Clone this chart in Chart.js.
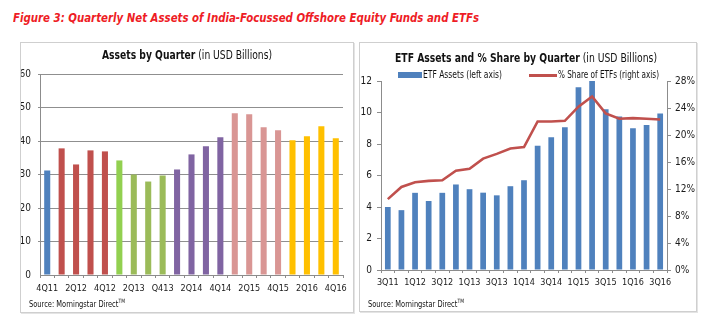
<!DOCTYPE html>
<html>
<head>
<meta charset="utf-8">
<script src="https://cdn.jsdelivr.net/npm/chart.js@4.4.1/dist/chart.umd.min.js"></script>
<style>
  html, body { margin:0; padding:0; background:#fff; }
  body { width:709px; height:332px; position:relative; overflow:hidden;
         font-family:"Liberation Sans Narrow","DejaVu Sans Condensed","Liberation Sans",sans-serif; color:#1a1a1a; }
  .abs { position:absolute; white-space:nowrap; }
  .fit { transform-origin:0 50%; display:inline-block; }
  .panel { position:absolute; border:1px solid #cfcfcf; box-shadow:1px 1px 0 #e4e4e4; background:#fff; }
  canvas { position:absolute; }
  #figTitle { color:#ee1c25; font-weight:bold; font-style:italic; font-size:13px; line-height:16px; }
  .ptitle { font-size:12px; line-height:14px; color:#111; }
  .ptitle b { font-weight:bold; }
  .src { font-size:9px; line-height:11px; color:#111; }
  .src sup { font-size:6px; vertical-align:4px; line-height:0; }
  .leg { font-size:10px; line-height:12px; color:#111; }
</style>
</head>
<body>
<div class="abs fit" id="figTitle" data-w="466" style="left:13px; top:10px;">Figure 3: Quarterly Net Assets of India-Focussed Offshore Equity Funds and ETFs</div>

<div class="panel" style="left:20px; top:42px; width:332px; height:269px;"></div>
<div class="panel" style="left:359px; top:42px; width:336px; height:268px;"></div>

<canvas id="leftChart" width="331" height="269" style="left:21px; top:43px; width:331px; height:269px;"></canvas>
<canvas id="rightChart" width="335" height="267" style="left:360px; top:43px; width:335px; height:267px;"></canvas>

<div class="abs fit ptitle" id="leftTitle" data-w="170" style="left:102px; top:48px;"><b>Assets by Quarter</b> (in USD Billions)</div>
<div class="abs fit ptitle" id="rightTitle" data-w="262" style="left:395px; top:51px;"><b>ETF Assets and % Share by Quarter</b> (in USD Billions)</div>

<div class="abs" id="legBox" style="left:398px; top:72px; width:24px; height:6px;"></div>
<div class="abs fit leg" id="legText1" data-w="79" style="left:423px; top:69px;"></div>
<div class="abs" id="legLine" style="left:529px; top:73.5px; width:28px; height:3px;"></div>
<div class="abs fit leg" id="legText2" data-w="101" style="left:558px; top:69px;"></div>

<div class="abs fit src" data-w="96" style="left:29px; top:299px;">Source: Morningstar Direct<sup>TM</sup></div>
<div class="abs fit src" data-w="96" style="left:368px; top:299px;">Source: Morningstar Direct<sup>TM</sup></div>

<script>
// ---------- DATA ----------
const leftQuarters = ['4Q11','1Q12','2Q12','3Q12','4Q12','1Q13','2Q13','3Q13','4Q13','1Q14','2Q14','3Q14','4Q14','1Q15','2Q15','3Q15','4Q15','1Q16','2Q16','3Q16','4Q16'];
const leftTickLabels = ['4Q11','','2Q12','','4Q12','','2Q13','','Q413','','2Q14','','4Q14','','2Q15','','4Q15','','2Q16','','4Q16'];
const assetsByQuarter = [31.2, 37.8, 33.0, 37.2, 36.9, 34.2, 30.0, 27.9, 29.7, 31.5, 36.0, 38.4, 41.1, 48.3, 48.0, 44.1, 43.2, 40.2, 41.4, 44.4, 40.8];
const leftYTicks = [0, 10, 20, 30, 40, 50, 60];

const rightQuarters = ['3Q11','4Q11','1Q12','2Q12','3Q12','4Q12','1Q13','2Q13','3Q13','4Q13','1Q14','2Q14','3Q14','4Q14','1Q15','2Q15','3Q15','4Q15','1Q16','2Q16','3Q16'];
const rightTickLabels = ['3Q11','','1Q12','','3Q12','','1Q13','','3Q13','','1Q14','','3Q14','','1Q15','','3Q15','','1Q16','','3Q16'];
const etfAssets = [4.0, 3.8, 4.9, 4.38, 4.9, 5.43, 5.13, 4.91, 4.74, 5.32, 5.70, 7.89, 8.43, 9.06, 11.6, 12.0, 10.21, 9.74, 9.0, 9.21, 9.94];
const etfSharePct = [10.5, 12.3, 13.0, 13.2, 13.3, 14.7, 15.0, 16.5, 17.2, 18.0, 18.2, 22.0, 22.0, 22.1, 24.2, 25.7, 23.2, 22.4, 22.5, 22.4, 22.3];
const etfAssetsLabel = 'ETF Assets (left axis)';
const etfShareLabel = '% Share of ETFs (right axis)';

// ---------- STYLE ----------
const leftBarColors = ['#4f81bd',
  '#c0504d','#c0504d','#c0504d','#c0504d',
  '#92d050','#9bbb59','#9bbb59','#9bbb59',
  '#8064a2','#8064a2','#8064a2','#8064a2',
  '#d99694','#d99694','#d99694','#d99694',
  '#ffc000','#ffc000','#ffc000','#ffc000'];
const ETF_BLUE = '#4f81bd', SHARE_RED = '#c0504d';
const FONT = '"Liberation Sans Narrow","DejaVu Sans Condensed","Liberation Sans",sans-serif';
const AXIS_GRAY = '#8c8c8c';

document.getElementById('legText1').textContent = etfAssetsLabel;
document.getElementById('legText2').textContent = etfShareLabel;
document.getElementById('legBox').style.background = ETF_BLUE;
document.getElementById('legLine').style.background = SHARE_RED;

// fit HTML texts to measured widths
document.querySelectorAll('.fit').forEach(el => {
  const target = parseFloat(el.dataset.w);
  const w = el.getBoundingClientRect().width;
  if (w > 0) el.style.transform = 'scaleX(' + (target / w) + ')';
});

Chart.defaults.font.family = FONT;
Chart.defaults.color = '#1a1a1a';
Chart.defaults.animation = false;

// ---------- LEFT CHART ----------
new Chart(document.getElementById('leftChart'), {
  type: 'bar',
  data: {
    labels: leftQuarters,
    datasets: [{ data: assetsByQuarter, backgroundColor: leftBarColors, barPercentage: 0.42, categoryPercentage: 1.0 }]
  },
  options: {
    responsive: false,
    layout: { padding: { left: 0, right: 9, top: 31, bottom: 0 } },
    plugins: { legend: { display: false }, tooltip: { enabled: false } },
    scales: {
      x: {
        offset: true,
        border: { display: true, color: AXIS_GRAY, width: 1 },
        grid: { display: true, drawOnChartArea: false, drawTicks: true, tickLength: 3, color: AXIS_GRAY, offset: true },
        ticks: { autoSkip: false, maxRotation: 0, minRotation: 0, padding: 5, font: { size: 9 },
                 callback: (v, i) => leftTickLabels[i] },
        afterFit: s => { s.height = 37; }
      },
      y: {
        min: 0, max: 60,
        afterBuildTicks: s => { s.ticks = leftYTicks.map(v => ({ value: v })); },
        border: { display: true, color: AXIS_GRAY, width: 1 },
        grid: { color: c => c.tick && c.tick.value === 0 ? 'rgba(0,0,0,0)' : '#8f8f8f',
                borderDash: [1, 1], lineWidth: 1, tickLength: 2, drawTicks: true },
        ticks: { padding: 7, font: { size: 10 } },
        afterFit: s => { s.width = 19; }
      }
    }
  }
});

// ---------- RIGHT CHART ----------
new Chart(document.getElementById('rightChart'), {
  data: {
    labels: rightQuarters,
    datasets: [
      { type: 'line', label: etfShareLabel, data: etfSharePct, yAxisID: 'y2', borderColor: SHARE_RED, borderWidth: 2.6,
        pointRadius: 0, tension: 0, fill: false, order: 0 },
      { type: 'bar', label: etfAssetsLabel, data: etfAssets, yAxisID: 'y', backgroundColor: ETF_BLUE,
        barPercentage: 0.42, categoryPercentage: 1.0, order: 1 }
    ]
  },
  options: {
    responsive: false,
    layout: { padding: { left: 0, right: 0, top: 38, bottom: 0 } },
    plugins: { legend: { display: false }, tooltip: { enabled: false } },
    scales: {
      x: {
        offset: true,
        border: { display: true, color: AXIS_GRAY, width: 1 },
        grid: { display: true, drawOnChartArea: false, drawTicks: true, tickLength: 3, color: AXIS_GRAY, offset: true },
        ticks: { autoSkip: false, maxRotation: 0, minRotation: 0, padding: 4, font: { size: 9 },
                 callback: (v, i) => rightTickLabels[i] },
        afterFit: s => { s.height = 40; }
      },
      y: {
        position: 'left', min: 0, max: 12,
        ticks: { stepSize: 2, padding: 5, font: { size: 10 } },
        border: { display: true, color: AXIS_GRAY, width: 1 },
        grid: { drawOnChartArea: false, drawTicks: true, tickLength: 4, color: AXIS_GRAY },
        afterFit: s => { s.width = 21; }
      },
      y2: {
        position: 'right', min: 0, max: 28,
        ticks: { stepSize: 4, padding: 4, font: { size: 10 }, callback: v => v + '%' },
        border: { display: true, color: AXIS_GRAY, width: 1 },
        grid: { drawOnChartArea: false, drawTicks: true, tickLength: 4, color: AXIS_GRAY },
        afterFit: s => { s.width = 28; }
      }
    }
  }
});
</script>
</body>
</html>
